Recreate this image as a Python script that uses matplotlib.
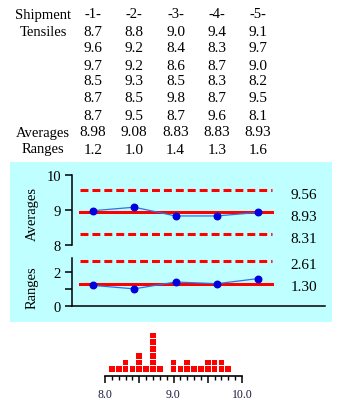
import numpy as np
import matplotlib
matplotlib.use("Agg")
import matplotlib.pyplot as plt
import matplotlib.transforms as mtransforms
from matplotlib.patches import Rectangle

# tensile strength data, one list per shipment
shipments = ["-1-", "-2-", "-3-", "-4-", "-5-"]
tensiles = [
    [8.7, 9.6, 9.7, 8.5, 8.7, 8.7],
    [8.8, 9.2, 9.2, 9.3, 8.5, 9.5],
    [9.0, 8.4, 8.6, 8.5, 9.8, 8.7],
    [9.4, 8.3, 8.7, 8.3, 8.7, 9.6],
    [9.1, 9.7, 9.0, 8.2, 9.5, 8.1],
]
averages = [8.98, 9.08, 8.83, 8.83, 8.93]
ranges = [1.2, 1.0, 1.4, 1.3, 1.6]

avg_center = 8.93
avg_ucl = 9.56
avg_lcl = 8.31
rng_center = 1.30
rng_ucl = 2.61

W, H = 342, 410
RED = "#ff0000"
BLUE = "#0000dd"
CYAN = "#c0ffff"
FONT = "Liberation Serif"

plt.rcParams["font.family"] = FONT

fig = plt.figure(figsize=(W / 100, H / 100), dpi=100)

# cyan panel behind the control charts
fig.patches.append(Rectangle((10 / W, 1 - 323 / H), 322 / W, 160 / H,
                             transform=fig.transFigure, facecolor=CYAN,
                             edgecolor="none", zorder=-5))

# control chart axes
ax1 = fig.add_axes([72 / W, 1 - 246 / H, 253 / W, 70 / H])
ax2 = fig.add_axes([72 / W, 1 - 307 / H, 253 / W, 48 / H])
xs = np.arange(1, 6)
xlim = (0.49, 6.624)
line_x = [0.685, 5.34]

for ax in (ax1, ax2):
    ax.set_facecolor("none")
    ax.set_xlim(*xlim)
    ax.set_xticks([])
    for s in ("top", "right"):
        ax.spines[s].set_visible(False)
    ax.spines["left"].set_linewidth(1.1)
    ax.spines["bottom"].set_linewidth(1.1)
    ax.tick_params(axis="y", length=5, width=1.1, pad=3, labelsize=10.5)

dash = (0, (2.6, 1.3))

# averages chart
ax1.spines["bottom"].set_visible(False)
ax1.set_ylim(8, 10)
ax1.set_yticks([8, 9, 10])
ax1.plot(line_x, [avg_ucl] * 2, color=RED, lw=2.2, ls=dash)
ax1.plot(line_x, [avg_lcl] * 2, color=RED, lw=2.2, ls=dash)
ax1.plot(line_x, [avg_center] * 2, color=RED, lw=2.2)
ax1.plot(xs, averages, color="#3070e8", lw=0.9, marker="o", ms=4.7,
         mfc=BLUE, mec=BLUE, zorder=3)
for v in (avg_ucl, avg_center, avg_lcl):
    ax1.annotate(f"{v:.2f}", (5.78, v), xytext=(0, -3), textcoords="offset points",
                 va="center", ha="left", fontsize=11, annotation_clip=False)

# ranges chart
ax2.set_ylim(0, 2.8)
ax2.set_yticks([0, 1, 2])
ax2.set_yticklabels(["0", "", "2"])
ax2.spines["left"].set_bounds(0, 2.8)
ax2.plot(line_x, [rng_ucl] * 2, color=RED, lw=2.2, ls=dash)
ax2.plot(line_x, [rng_center] * 2, color=RED, lw=2.2)
ax2.plot(xs, ranges, color="#3070e8", lw=0.9, marker="o", ms=4.7,
         mfc=BLUE, mec=BLUE, zorder=3)
for v in (rng_ucl, rng_center):
    ax2.annotate(f"{v:.2f}", (5.78, v), xytext=(0, -2), textcoords="offset points",
                 va="center", ha="left", fontsize=11, annotation_clip=False)

fig.text(32 / W, 1 - 214 / H, "Averages", rotation=90, ha="center", va="center", fontsize=10.5)
fig.text(32 / W, 1 - 288 / H, "Ranges", rotation=90, ha="center", va="center", fontsize=10.5)

# data table above, columns lined up with the chart points
tr = mtransforms.blended_transform_factory(ax1.transData, fig.transFigure)
row_y = [15, 32, 49, 66, 82, 99, 116, 133, 150]
lab_x = 43 / W
fs = 10.5
fig.text(lab_x, 1 - row_y[0] / H, "Shipment", ha="center", va="center", fontsize=fs)
fig.text(lab_x, 1 - row_y[1] / H, "Tensiles", ha="center", va="center", fontsize=fs)
fig.text(lab_x, 1 - row_y[7] / H, "Averages", ha="center", va="center", fontsize=fs)
fig.text(lab_x, 1 - row_y[8] / H, "Ranges", ha="center", va="center", fontsize=fs)
for i, x in enumerate(xs):
    fig.text(x, 1 - row_y[0] / H, shipments[i], transform=tr, ha="center", va="center", fontsize=fs)
    for j, v in enumerate(tensiles[i]):
        fig.text(x, 1 - row_y[j + 1] / H, f"{v:.1f}", transform=tr, ha="center", va="center", fontsize=11)
    fig.text(x, 1 - row_y[7] / H, f"{averages[i]:.2f}", transform=tr, ha="center", va="center", fontsize=11)
    fig.text(x, 1 - row_y[8] / H, f"{ranges[i]:.1f}", transform=tr, ha="center", va="center", fontsize=11)

# dot plot of all tensiles
ax3 = fig.add_axes([105 / W, 1 - 377 / H, 137 / W, 50 / H])
all_vals = np.round(np.concatenate(tensiles), 1)
vals, counts = np.unique(all_vals, return_counts=True)
for k in range(counts.max()):
    sel = counts > k
    ax3.bar(vals[sel], 0.85, bottom=k, width=0.083, color=RED, linewidth=0)
ax3.set_xlim(8.0, 10.0)
ax3.set_ylim(-0.6, 6.86)
for s in ("top", "right", "left"):
    ax3.spines[s].set_visible(False)
ax3.spines["bottom"].set_linewidth(1.2)
ax3.set_yticks([])
ax3.set_xticks([8.0, 8.5, 9.0, 9.5, 10.0])
ax3.set_xticklabels(["8.0", "", "9.0", "", "10.0"])
ax3.set_xticks(np.arange(8.0, 10.01, 0.1), minor=True)
ax3.tick_params(axis="x", which="major", length=5, width=1.1, pad=4, labelsize=8.5,
                labelcolor="#1a1a40")
ax3.tick_params(axis="x", which="minor", length=3, width=1.0)
ax3.set_facecolor("none")

fig.savefig("out.png", dpi=100)
